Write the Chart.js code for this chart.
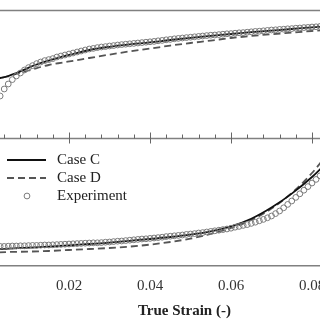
<!DOCTYPE html>
<html>
<head>
<meta charset="utf-8">
<script src="https://cdn.jsdelivr.net/npm/chart.js@4.4.0/dist/chart.umd.min.js"></script>
<style>
  html, body { margin: 0; padding: 0; background: #fff; }
  body { width: 320px; height: 320px; position: relative; overflow: hidden; }
  canvas { position: absolute; left: -30px; }
  #topChart { top: 0; }
  #bottomChart { top: 130px; }
</style>
</head>
<body>
<canvas id="topChart" width="435" height="145"></canvas>
<canvas id="bottomChart" width="435" height="190"></canvas>
<script>
// ---- data ----
const strainTicks = [0.02, 0.04, 0.06, 0.08];
const minorStep = 0.004;
const expStep = 0.001; // experiment sampled every 0.001 strain

// upper panel
const strainTopSim = [0, 0.0015, 0.003, 0.005, 0.007, 0.009, 0.011, 0.013, 0.015, 0.018, 0.021, 0.025,
  0.03, 0.035, 0.04, 0.045, 0.05, 0.055, 0.06, 0.065, 0.07, 0.075, 0.08, 0.085];
const caseCTop = [10, 290, 310, 320, 335, 352, 370, 385, 397, 415, 430, 450,
  466, 478, 488, 500, 511, 521, 530, 539, 547, 555, 563, 570];
const caseDTop = [10, 285, 310, 318, 330, 342, 353, 365, 375, 386, 396, 410,
  427, 443, 457, 472, 485, 497, 510, 520, 529, 537, 545, 552];
const expTop = [60, 125, 180, 220, 255, 280, 302, 320, 335, 350,
  362, 372, 382, 390, 397, 402, 407, 415, 420, 425,
  430, 435, 440, 445, 450, 455, 458, 462, 465, 467,
  470, 472, 475, 477, 479, 481, 483, 485, 487, 489,
  491, 493, 496, 498, 501, 503, 506, 508, 510, 512,
  514, 516, 518, 520, 522, 524, 525, 527, 529, 531,
  532, 534, 536, 537, 539, 541, 543, 544, 546, 548,
  550, 551, 553, 554, 556, 557, 559, 560, 562, 563,
  565, 566, 568, 569, 570];

// lower panel
const strainBottomSim = [0, 0.005, 0.01, 0.015, 0.02, 0.025, 0.03, 0.035, 0.04,
  0.045, 0.05, 0.055, 0.06, 0.065, 0.07, 0.075, 0.08, 0.085];
const caseCBottom = [80, 87, 92, 97, 103, 110, 117, 126, 135, 145, 157, 173, 198, 236, 292, 362, 445, 545];
const caseDBottom = [65, 70, 72, 75, 80, 85, 90, 97, 107, 120, 137, 160, 190, 230, 287, 365, 465, 590];
const expBottom = [95, 95, 96, 98, 98, 99, 100, 100, 101, 101,
  102, 103, 103, 104, 105, 105, 106, 107, 108, 109,
  110, 111, 112, 113, 114, 115, 116, 116, 117, 119,
  120, 122, 124, 125, 127, 129, 131, 133, 135, 136,
  138, 140, 142, 144, 147, 149, 151, 153, 155, 158,
  160, 162, 165, 167, 170, 173, 176, 179, 182, 185,
  189, 194, 198, 203, 207, 213, 219, 226, 233, 241,
  250, 262, 275, 291, 308, 325, 343, 361, 379, 397,
  415, 433, 451, 470, 489];

const seriesNames = ["Case C", "Case D", "Experiment"];

// ---- styling ----
const serif = "'Liberation Serif', 'Times New Roman', serif";
const axisColor = "#808080";
Chart.defaults.font.family = serif;

function pts(xs, ys) {
  return ys.map((y, i) => ({ x: xs[i], y: y }));
}
function expPts(ys) {
  return ys.map((y, i) => ({ x: i * expStep, y: y }));
}

function makeDatasets(cVals, dVals, eVals, xs) {
  return [
    {
      label: seriesNames[0],
      data: pts(xs, cVals),
      borderColor: "#111111",
      borderWidth: 1.8,
      pointRadius: 0,
      cubicInterpolationMode: "monotone",
      order: 1,
    },
    {
      label: seriesNames[1],
      data: pts(xs, dVals),
      borderColor: "#555555",
      borderWidth: 1.8,
      borderDash: [7, 4],
      pointRadius: 0,
      cubicInterpolationMode: "monotone",
      order: 2,
    },
    {
      label: seriesNames[2],
      data: expPts(eVals),
      showLine: false,
      pointRadius: 2.9,
      pointBorderWidth: 1,
      pointBorderColor: "#7c7c7c",
      pointBackgroundColor: "rgba(255,255,255,0)",
      order: 0,
    },
  ];
}

// frame lines + minor/major ticks on the shared middle axis
const panelFrame = {
  id: "panelFrame",
  afterDatasetsDraw(chart, args, opts) {
    if (!opts.on) return;
    const { ctx, chartArea: a, scales } = chart;
    const x = scales.x;
    ctx.save();
    ctx.strokeStyle = axisColor;
    ctx.lineWidth = 1.5;
    ctx.beginPath();
    ctx.moveTo(a.left, a.top);
    ctx.lineTo(a.right, a.top);
    ctx.moveTo(a.left, a.bottom);
    ctx.lineTo(a.right, a.bottom);
    ctx.stroke();

    ctx.lineWidth = 1;
    ctx.strokeStyle = "#666";
    ctx.beginPath();
    for (let v = 0; v <= x.max + 1e-9; v += minorStep) {
      const px = Math.round(x.getPixelForValue(v)) + 0.5;
      ctx.moveTo(px, a.bottom);
      ctx.lineTo(px, a.bottom - 4);
    }
    [0].concat(strainTicks).forEach((v) => {
      const px = Math.round(x.getPixelForValue(v)) + 0.5;
      ctx.moveTo(px, a.bottom - 6);
      ctx.lineTo(px, a.bottom + 5);
    });
    ctx.stroke();
    ctx.restore();
  },
};

// legend drawn inside the lower panel
const insideLegend = {
  id: "insideLegend",
  afterDraw(chart, args, opts) {
    if (!opts.on) return;
    const { ctx, chartArea: a } = chart;
    ctx.save();
    ctx.font = "15px " + serif;
    ctx.textBaseline = "middle";
    ctx.fillStyle = "#222";
    chart.data.datasets.forEach((ds, i) => {
      const y = a.top + 21.5 + i * 18;
      const x0 = a.left + 19;
      const x1 = a.left + 58;
      if (ds.showLine === false) {
        ctx.beginPath();
        ctx.lineWidth = ds.pointBorderWidth;
        ctx.strokeStyle = ds.pointBorderColor;
        ctx.arc(a.left + 39, y, ds.pointRadius, 0, Math.PI * 2);
        ctx.stroke();
      } else {
        ctx.beginPath();
        ctx.lineWidth = ds.borderWidth;
        ctx.strokeStyle = ds.borderColor;
        ctx.setLineDash(ds.borderDash || []);
        ctx.moveTo(x0, y);
        ctx.lineTo(x1, y);
        ctx.stroke();
        ctx.setLineDash([]);
      }
      ctx.fillText(ds.label, a.left + 69, y);
    });
    ctx.restore();
  },
};

const xBase = {
  type: "linear",
  min: 0,
  max: 0.097,
};
const padX = { left: 18, right: 24.15 };

const topChart = new Chart(document.getElementById("topChart"), {
  type: "line",
  data: { datasets: makeDatasets(caseCTop, caseDTop, expTop, strainTopSim) },
  options: {
    responsive: false,
    devicePixelRatio: 1,
    animation: false,
    events: [],
    layout: { padding: { ...padX, top: 10.5, bottom: 6.5 } },
    plugins: {
      legend: { display: false },
      tooltip: { enabled: false },
      panelFrame: { on: true },
      insideLegend: { on: false },
    },
    scales: {
      x: { ...xBase, display: false },
      y: { type: "linear", min: 7.5, max: 647.5, display: false },
    },
  },
  plugins: [panelFrame, insideLegend],
});

const bottomChart = new Chart(document.getElementById("bottomChart"), {
  type: "line",
  data: { datasets: makeDatasets(caseCBottom, caseDBottom, expBottom, strainBottomSim) },
  options: {
    responsive: false,
    devicePixelRatio: 1,
    animation: false,
    events: [],
    layout: { padding: { ...padX, top: 8.5, bottom: 0 } },
    plugins: {
      legend: { display: false },
      tooltip: { enabled: false },
      panelFrame: { on: false },
      insideLegend: { on: true },
    },
    scales: {
      x: {
        ...xBase,
        afterBuildTicks: (s) => {
          s.ticks = strainTicks.map((v) => ({ value: v }));
        },
        afterFit: (s) => {
          s.height = 54;
        },
        grid: { display: false },
        border: { display: true, color: axisColor, width: 1.5 },
        ticks: {
          padding: 3,
          color: "#333",
          font: { size: 15, family: serif },
          maxRotation: 0,
          callback: (v) => v.toFixed(2),
        },
        title: {
          display: true,
          text: "True Strain (-)",
          color: "#222",
          font: { size: 15, weight: "bold", family: serif },
          padding: { top: 0, bottom: 0 },
        },
      },
      y: { type: "linear", min: 0, max: 637.5, display: false },
    },
  },
  plugins: [panelFrame, insideLegend],
});
</script>
</body>
</html>
